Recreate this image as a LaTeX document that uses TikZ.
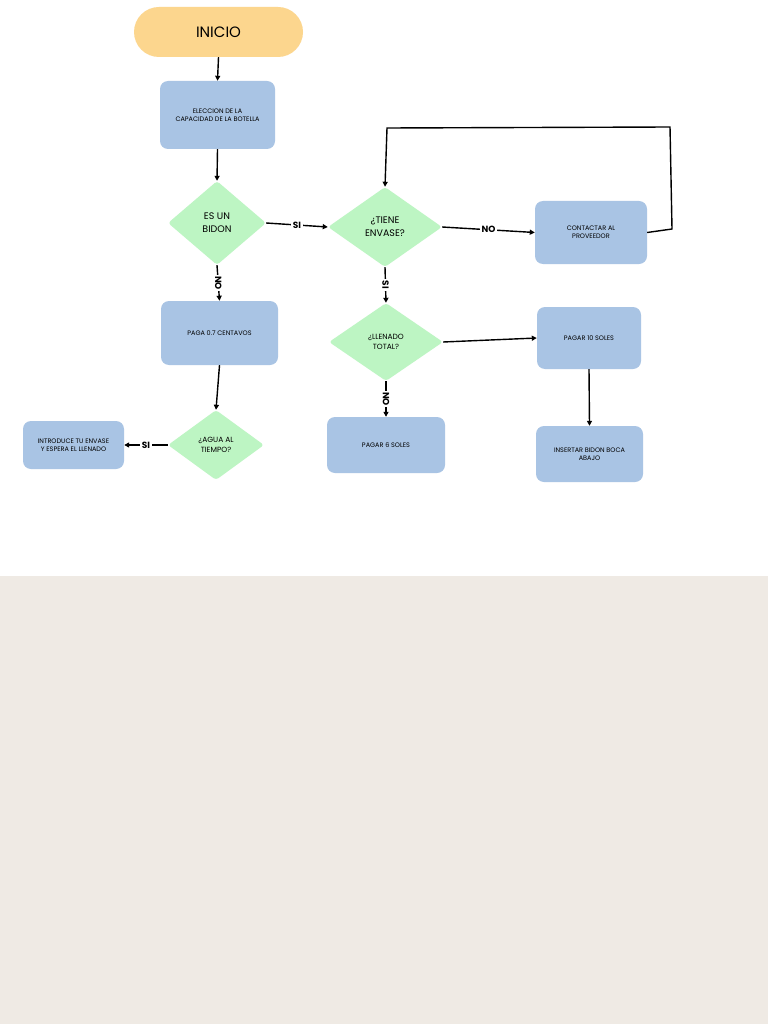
\documentclass[tikz,border=0pt]{standalone}
\usepackage{fontspec}
\setmainfont{Poppins}
\usetikzlibrary{shapes.geometric,arrows.meta}
\definecolor{pill}{HTML}{FCD68E}
\definecolor{boxc}{HTML}{A9C4E4}
\definecolor{dia}{HTML}{BDF5C3}
\definecolor{beige}{HTML}{EFEAE4}
\tikzset{
 proc/.style={fill=boxc,rounded corners=8pt,align=center,font=\fontsize{6.5}{8}\selectfont,inner sep=2pt},
 dec/.style={diamond,fill=dia,align=center,font=\fontsize{9.5}{13}\selectfont,inner sep=0pt,rounded corners=3pt},
 arr/.style={-{Triangle[length=5pt,width=5pt]},line width=1.4pt},
 lab/.style={fill=white,font=\bfseries\fontsize{9}{10}\selectfont,inner sep=1.5pt}
}
\begin{document}
\begin{tikzpicture}[x=1pt,y=-1pt]
\fill[white] (0,0) rectangle (768,576);
\fill[beige] (0,576) rectangle (768,1024);
\useasboundingbox (0,0) rectangle (768,1024);
\node[fill=pill,rounded corners=25pt,minimum width=169pt,minimum height=50pt,font=\fontsize{15}{18}\selectfont] (ini) at (218.5,32) {INICIO};
\node[proc,minimum width=115pt,minimum height=68pt] (ele) at (217.5,115) {ELECCION DE LA\\CAPACIDAD DE LA BOTELLA};
\node[dec,minimum width=98pt,minimum height=84pt] (bid) at (217,223) {ES UN\\BIDON};
\node[dec,minimum width=114pt,minimum height=80pt] (env) at (385,227) {¿TIENE\\ENVASE?};
\node[proc,minimum width=112pt,minimum height=63pt] (con) at (591,232.5) {CONTACTAR AL\\PROVEEDOR};
\node[proc,minimum width=117pt,minimum height=64pt] (pag07) at (219.5,333) {PAGA 0.7 CENTAVOS};
\node[dec,minimum width=114pt,minimum height=78pt,font=\fontsize{7.5}{10}\selectfont] (lle) at (386,342) {¿LLENADO\\TOTAL?};
\node[proc,minimum width=104pt,minimum height=62pt] (p10) at (589,338) {PAGAR 10 SOLES};
\node[dec,minimum width=96pt,minimum height=70pt,font=\fontsize{7.5}{10}\selectfont] (agua) at (216,445) {¿AGUA AL\\TIEMPO?};
\node[proc,minimum width=101pt,minimum height=48pt] (intro) at (73.5,445) {INTRODUCE TU ENVASE\\Y ESPERA EL LLENADO};
\node[proc,minimum width=118pt,minimum height=56pt] (p6) at (386,445) {PAGAR 6 SOLES};
\node[proc,minimum width=107pt,minimum height=56pt] (ins) at (589.5,454) {INSERTAR BIDON BOCA\\ABAJO};
\draw[arr] (ini.south) -- (ele.north);
\draw[arr] (ele.south) -- (bid.north);
\draw[arr] (bid.east) -- node[lab]{SI} (env.west);
\draw[arr] (env.east) -- node[lab]{NO} (con.west);
\draw[arr] (bid.south) -- node[lab,rotate=-90]{NO} (pag07.north);
\draw[arr] (env.south) -- node[lab,rotate=-90]{SI} (lle.north);
\draw[arr] (lle.east) -- (p10.west);
\draw[arr] (lle.south) -- node[lab,rotate=-90]{NO} (p6.north);
\draw[arr] (p10.south) -- (ins.north);
\draw[arr] (pag07.south) -- (agua.north);
\draw[arr] (agua.west) -- node[lab]{SI} (intro.east);
\coordinate (c1) at (672,229);
\coordinate (c2) at (670,127);
\coordinate (c3) at (387,128);
\draw[arr,rounded corners=0pt] (con.east) -- (c1) -- (c2) -- (c3) -- (env.north);
\end{tikzpicture}
\end{document}
